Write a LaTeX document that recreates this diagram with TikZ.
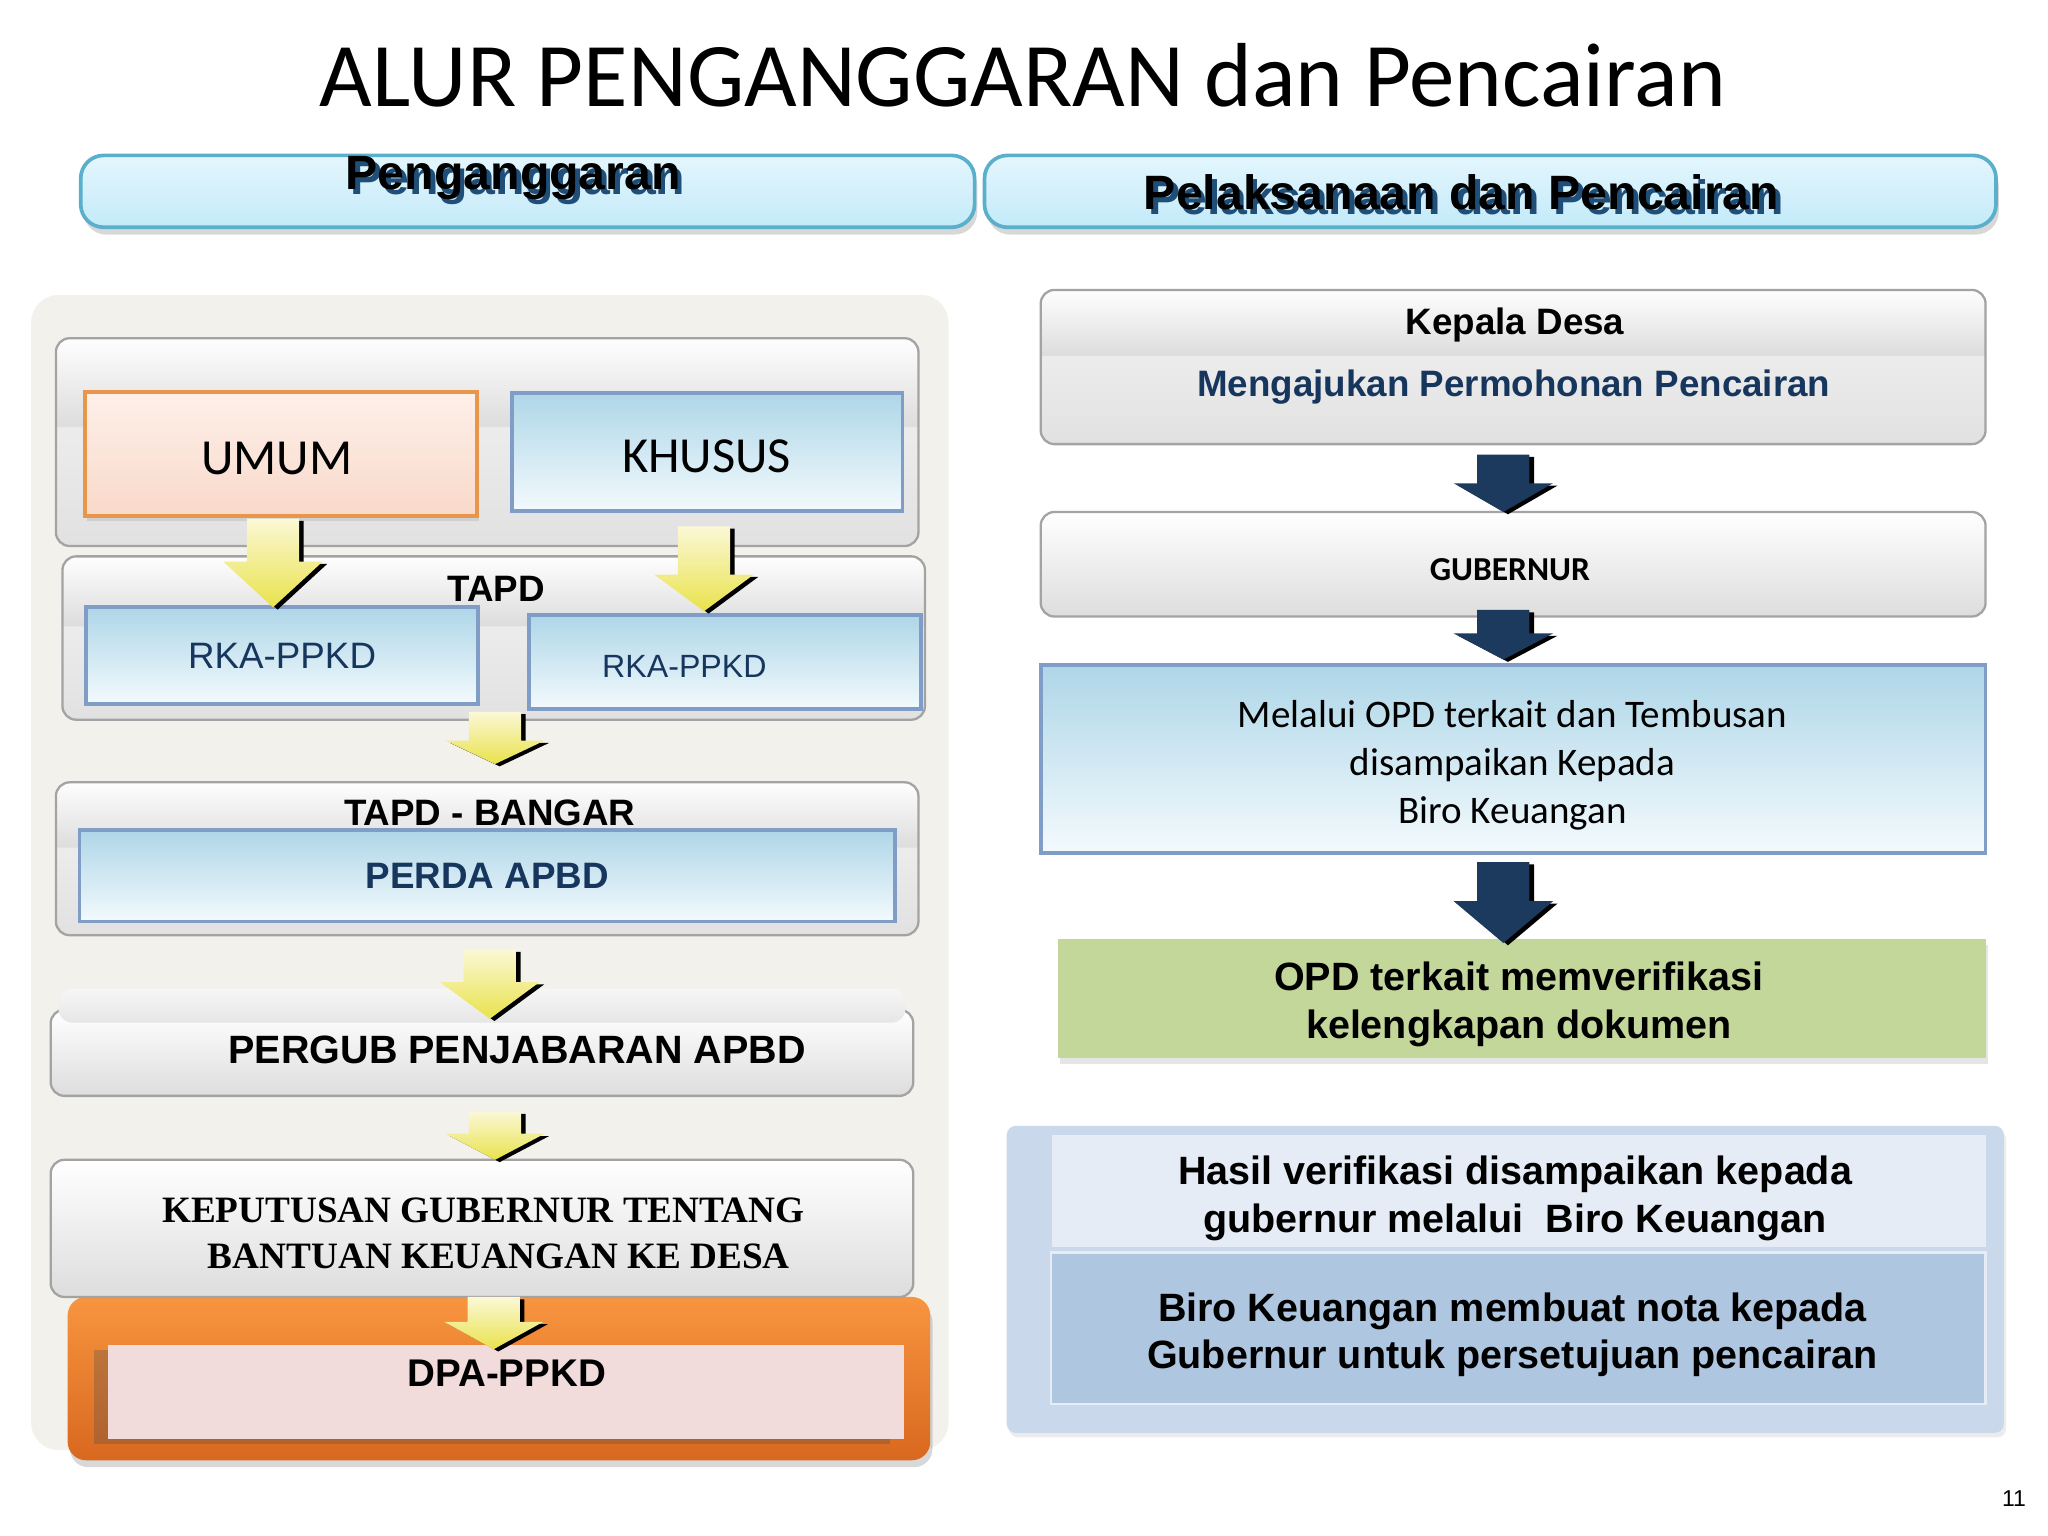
\documentclass[tikz,border=0pt]{standalone}
\usepackage{fontspec}
\setmainfont{Carlito}
\newfontfamily\arialfont{Liberation Sans}
\newfontfamily\timesfont{Liberation Serif}
\usepackage{xcolor}
\usepackage{tikz}
\usetikzlibrary{arrows.meta,positioning,calc,shadows}
\definecolor{hdtop}{HTML}{E4F6FD}
\definecolor{hdbot}{HTML}{C3EAF9}
\definecolor{hdline}{HTML}{5AAFCB}
\definecolor{hdshadow}{HTML}{1F4E79}
\definecolor{panelbg}{HTML}{F2F1EC}
\definecolor{greyline}{HTML}{A3A3A3}
\definecolor{greybot}{HTML}{DDDDDD}
\definecolor{bandtop}{HTML}{F6F6F6}
\definecolor{bandbot}{HTML}{E6E6E6}
\definecolor{glossbot}{HTML}{E1E1E1}
\definecolor{glossmid}{HTML}{ECECEC}
\definecolor{glossband}{HTML}{DDDDDD}
\definecolor{glosstop}{HTML}{FEFEFE}
\definecolor{bluetop}{HTML}{AED6E8}
\definecolor{bluebot}{HTML}{F3FAFD}
\definecolor{blueline}{HTML}{7F9DC6}
\definecolor{peachtop}{HTML}{FDF0EA}
\definecolor{peachbot}{HTML}{F9D9C9}
\definecolor{peachline}{HTML}{E8964C}
\definecolor{navytext}{HTML}{17365D}
\definecolor{navyarrow}{HTML}{1B3A5E}
\definecolor{yellowtop}{HTML}{FBF8D6}
\definecolor{yellowbot}{HTML}{E9E24C}
\definecolor{orangetop}{HTML}{F8953F}
\definecolor{orangebot}{HTML}{D8681F}
\definecolor{pinkfill}{HTML}{F2DCDB}
\definecolor{greenfill}{HTML}{C4D79B}
\definecolor{bluepanel}{HTML}{C9D9EB}
\definecolor{lightblue}{HTML}{E5ECF5}
\definecolor{midblue}{HTML}{AFC6E1}
\pgfdeclareverticalshading{glossgrey}{100bp}{color(0bp)=(glossbot); color(25bp)=(glossbot); color(53.5bp)=(glossmid); color(54bp)=(glossband); color(75bp)=(glosstop); color(100bp)=(glosstop)}
\newcommand{\shadowed}[1]{\makebox[0pt][l]{\kern1pt\raisebox{-1pt}{\textcolor{hdshadow}{#1}}}#1}
\tikzset{
  titletext/.style={font=\fontsize{19.8}{24}\selectfont},
  hdbar/.style={rounded corners=5pt, draw=hdline, line width=0.8pt, top color=hdtop, bottom color=hdbot, drop shadow={opacity=0.3, shadow xshift=0.6pt, shadow yshift=-1.6pt}},
  hdtext/.style={font=\arialfont\bfseries\fontsize{10.5}{12}\selectfont},
  panel/.style={rounded corners=6pt, fill=panelbg},
  glossbox/.style={rounded corners=3pt, draw=greyline, line width=0.5pt, shading=glossgrey},
  greybox/.style={rounded corners=3pt, draw=greyline, line width=0.5pt, top color=white, bottom color=greybot},
  bandbox/.style={rounded corners=3pt, inner sep=0pt, top color=bandtop, bottom color=bandbot},
  bigtext/.style={font=\fontsize{11}{13}\selectfont},
  peachbox/.style={draw=peachline, line width=0.8pt, top color=peachtop, bottom color=peachbot, drop shadow={opacity=0.2, shadow xshift=0.5pt, shadow yshift=-1pt}},
  bluebox/.style={draw=blueline, line width=0.8pt, top color=bluetop, bottom color=bluebot},
  rkatext/.style={font=\arialfont\fontsize{8}{9.6}\selectfont, text=navytext},
  boldlabel/.style={font=\arialfont\bfseries\fontsize{8}{9.6}\selectfont},
  boldbig/.style={font=\arialfont\bfseries\fontsize{8.6}{10.3}\selectfont, align=center},
  kepfont/.style={font=\timesfont\bfseries\fontsize{8.1}{10}\selectfont, align=center},
  orangebox/.style={rounded corners=4pt, top color=orangetop, bottom color=orangebot, drop shadow={opacity=0.3, shadow xshift=0.5pt, shadow yshift=-1.5pt}},
  pinkbox/.style={fill=pinkfill, drop shadow={opacity=0.3, fill=black!70, shadow xshift=-3pt, shadow yshift=-1pt}},
  greenbox/.style={fill=greenfill, drop shadow={opacity=0.2, shadow xshift=0.5pt, shadow yshift=-1.2pt}},
  resultpanel/.style={rounded corners=2pt, fill=bluepanel, drop shadow={opacity=0.15, shadow xshift=0.5pt, shadow yshift=-1pt}},
  blockdown/.style={to path={
      ($(\tikztostart)+(-20,0)$) -- ($(\tikztostart)+(20,0)$)
      -- ($(\tikztotarget)+(20,-#1)$) -- ($(\tikztotarget)+(38,-#1)$)
      -- (\tikztotarget) -- ($(\tikztotarget)+(-38,-#1)$)
      -- ($(\tikztotarget)+(-20,-#1)$) -- cycle}},
  yarrow/.style={top color=yellowtop, bottom color=yellowbot, drop shadow={fill=black, opacity=1, shadow xshift=1pt, shadow yshift=-0.5pt}},
  narrow/.style={fill=navyarrow, drop shadow={fill=black, opacity=1, shadow xshift=1pt, shadow yshift=-0.5pt}}
}
\begin{document}
\begin{tikzpicture}[x=0.01cm, y=-0.01cm]
  \useasboundingbox[fill=white] (0,0) rectangle (1568,1176);
  \node[titletext] (title) at (783,58) {ALUR PENGANGGARAN dan Pencairan};
  \node[hdbar, minimum width=6.84cm, minimum height=0.55cm] (hdleft) at (404,146.5) {};
  \node[hdbar, minimum width=7.74cm, minimum height=0.55cm] (hdright) at (1141,146.5) {};
  \node[hdtext] (hdlefttext) at (393,138) {\shadowed{Penganggaran}};
  \node[hdtext] (hdrighttext) at (1119,149) {\shadowed{Pelaksanaan dan Pencairan}};
  % Penganggaran column
  \node[panel, minimum width=7.02cm, minimum height=8.84cm] (leftpanel) at (375,668) {};
  \node[glossbox, minimum width=6.6cm, minimum height=1.59cm] (grpsource) at (373,338.5) {};
  \node[peachbox, minimum width=3cm, minimum height=0.95cm] (umum) at (215,347.5) {};
  \node[bigtext] (umumtext) at (212,351) {UMUM};
  \node[bluebox, minimum width=2.99cm, minimum height=0.9cm] (khusus) at (541.5,346) {};
  \node[bigtext] (khusustext) at (541,349) {KHUSUS};
  \node[glossbox, minimum width=6.6cm, minimum height=1.25cm] (grptapd) at (378,488.5) {};
  \node[boldlabel] (tapd) at (380,451) {TAPD};
  \node[bluebox, rkatext, minimum width=3cm, minimum height=0.74cm] (rkaleft) at (216,502) {RKA-PPKD};
  \node[bluebox, minimum width=3cm, minimum height=0.72cm] (rkaright) at (555,507) {};
  \node[rkatext, font=\arialfont\fontsize{7}{8.4}\selectfont] (rkarighttext) at (524,510) {RKA-PPKD};
  \node[glossbox, minimum width=6.6cm, minimum height=1.17cm] (grpbangar) at (373,657.5) {};
  \node[boldlabel] (bangar) at (375,622) {TAPD - BANGAR};
  \node[bluebox, boldlabel, text=navytext, minimum width=6.24cm, minimum height=0.7cm] (perda) at (373,670.5) {PERDA APBD};
  \node[greybox, minimum width=6.6cm, minimum height=0.66cm] (pergub) at (369,806) {};
  \node[bandbox, minimum width=6.48cm, minimum height=0.26cm] (pergubband) at (369,770) {};
  \node[boldbig] (pergubtext) at (396,804) {PERGUB PENJABARAN APBD};
  \node[orangebox, minimum width=6.6cm, minimum height=1.25cm] (dpaouter) at (382,1055.5) {};
  \node[pinkbox, minimum width=6.09cm, minimum height=0.72cm] (dpa) at (387.5,1066) {};
  \node[boldlabel, font=\arialfont\bfseries\fontsize{8.4}{10}\selectfont] (dpatext) at (388,1051) {DPA-PPKD};
  \node[greybox, minimum width=6.6cm, minimum height=1.05cm] (kep) at (369,940.5) {};
  \node[kepfont] (keptext) at (370,944.5) {KEPUTUSAN GUBERNUR TENTANG\\\hspace*{0.24cm}BANTUAN KEUANGAN KE DESA};
  % yellow arrows
  \coordinate (ya1s) at (209,397); \coordinate (ya1t) at (209,465);
  \coordinate (ya2s) at (539,403); \coordinate (ya2t) at (539,468);
  \coordinate (ya3s) at (379,545); \coordinate (ya3t) at (379,585);
  \coordinate (ya4s) at (375,727); \coordinate (ya4t) at (375,780);
  \coordinate (ya5s) at (379,851); \coordinate (ya5t) at (379,888);
  \coordinate (ya6s) at (378,993); \coordinate (ya6t) at (378,1033);
  \path[yarrow] (ya1s) to[blockdown=35] (ya1t);
  \path[yarrow] (ya2s) to[blockdown=28] (ya2t);
  \path[yarrow] (ya3s) to[blockdown=18] (ya3t);
  \path[yarrow] (ya4s) to[blockdown=28] (ya4t);
  \path[yarrow] (ya5s) to[blockdown=20] (ya5t);
  \path[yarrow] (ya6s) to[blockdown=21] (ya6t);
  % Pelaksanaan column
  \node[glossbox, minimum width=7.23cm, minimum height=1.18cm] (kades) at (1158.5,281) {};
  \node[boldlabel] (kadestext) at (1160,249) {Kepala Desa};
  \node[boldlabel, text=navytext] (ajukan) at (1159,296) {Mengajukan Permohonan Pencairan};
  \node[greybox, minimum width=7.23cm, minimum height=0.8cm] (gub) at (1158.5,432) {};
  \node[font=\bfseries\fontsize{7.3}{9}\selectfont] (gubtext) at (1156,436) {GUBERNUR};
  \node[bluebox, minimum width=7.23cm, minimum height=1.44cm] (melalui) at (1158.5,581) {};
  \node[align=center, font=\fontsize{8.5}{10.4}\selectfont] (melaluitext) at (1158,586) {Melalui OPD terkait dan Tembusan\\disampaikan Kepada\\Biro Keuangan};
  \node[greenbox, minimum width=7.1cm, minimum height=0.91cm] (opd) at (1165,764.5) {};
  \node[boldbig] (opdtext) at (1163,769) {OPD terkait memverifikasi\\kelengkapan dokumen};
  \node[resultpanel, minimum width=7.63cm, minimum height=2.35cm] (result) at (1152.5,979.5) {};
  \node[fill=lightblue, minimum width=7.14cm, minimum height=0.86cm] (hasil) at (1163,912) {};
  \node[boldbig] (hasiltext) at (1160,917.5) {Hasil verifikasi disampaikan kepada\\gubernur melalui\ \ Biro Keuangan};
  \node[fill=midblue, draw=lightblue, line width=0.5pt, minimum width=7.15cm, minimum height=1.16cm] (nota) at (1162.5,1017) {};
  \node[boldbig] (notatext) at (1158,1022) {Biro Keuangan membuat nota kepada\\Gubernur untuk persetujuan pencairan};
  % navy arrows
  \coordinate (na1s) at (1151,348); \coordinate (na1t) at (1151,392);
  \coordinate (na2s) at (1151,467); \coordinate (na2t) at (1151,505);
  \coordinate (na3s) at (1151,660); \coordinate (na3t) at (1151,722);
  \path[narrow] (na1s) to[blockdown=22] (na1t);
  \path[narrow] (na2s) to[blockdown=20] (na2t);
  \path[narrow] (na3s) to[blockdown=32] (na3t);
  \node[font=\arialfont\fontsize{5}{6}\selectfont] (pagenum) at (1542,1147) {11};
\end{tikzpicture}
\end{document}
